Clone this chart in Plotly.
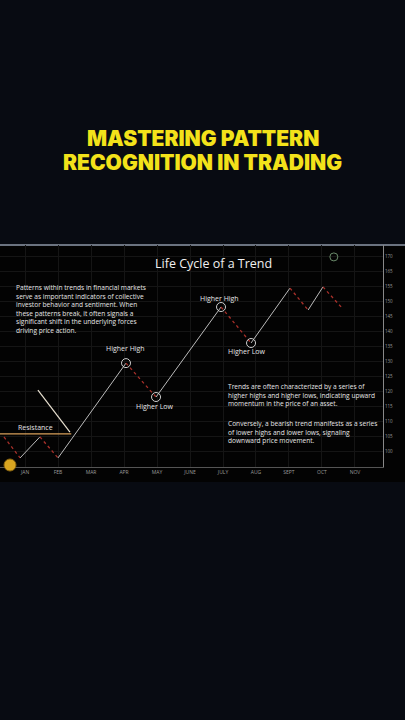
import plotly.graph_objects as go

months = ["JAN","FEB","MAR","APR","MAY","JUNE","JULY","AUG","SEPT","OCT","NOV"]
month_pos = [1,2,3,4,5,6,7,8,9,10,11]
ytick_vals = [100,105,110,115,120,125,130,135,140,145,150,155,160,165]
ytick_text = ["100","105","110","115","120","125","130","135","140","145","150","155","165","170"]
# path points (month, price)
path_x = [0.36,0.85,1.45,2.0,4.06,4.97,6.94,7.85,9.03,9.58,10.03,10.64]
path_y = [104.7,97.7,104.7,97.7,129.3,118,148,136,154.3,147,154.7,147.3]
circle_x = [4.06,4.97,6.94,7.85]
circle_y = [129.3,118,148,136]
res_x = [0.24,2.4]; res_y = [105.7,105.7]
diag_x = [1.39,2.36]; diag_y = [120.3,106.3]

W,H = 405,720
def py(p): return 1-p/H
def px(p): return p/W

fig = go.Figure()
for i in range(len(path_x)-1):
    up = path_y[i+1] > path_y[i]
    fig.add_trace(go.Scatter(x=path_x[i:i+2], y=path_y[i:i+2], mode="lines",
        line=dict(color="#cfcfcf" if up else "#a8302a", width=0.9 if up else 1.3,
                  dash="solid" if up else "dot"), hoverinfo="skip"))
fig.add_trace(go.Scatter(x=res_x, y=res_y, mode="lines", line=dict(color="#d9a05a", width=1.3)))
fig.add_trace(go.Scatter(x=diag_x, y=diag_y, mode="lines", line=dict(color="#e8e0d0", width=1.2)))
fig.add_trace(go.Scatter(x=circle_x, y=circle_y, mode="markers",
    marker=dict(size=9, color="rgba(0,0,0,0)", line=dict(color="#cfcfcf", width=1))))
fig.add_trace(go.Scatter(x=[10.36], y=[164.7], mode="markers",
    marker=dict(size=8, color="rgba(0,0,0,0)", line=dict(color="#6a8a6a", width=1))))

ann = []
def t(x,y,s,size=6.2,color="#e6e6e6",xa="left",ya="top",ref="paper",fam="Open Sans",weight=None,**kw):
    f=dict(size=size,color=color,family=fam)
    if weight: f["weight"]=weight
    ann.append(dict(x=x,y=y,text=s,showarrow=False,xref=ref,yref=ref,xanchor=xa,yanchor=ya,
        align="left",font=f,**kw))
t(0.5,py(138),"MASTERING PATTERN",size=21,color="#f3e21a",xa="center",ya="middle",fam="Inter",weight=900)
t(0.5,py(163),"RECOGNITION IN TRADING",size=21,color="#f3e21a",xa="center",ya="middle",fam="Inter",weight=900)
t(px(213),py(263),"Life Cycle of a Trend",size=12.5,color="#f0f0f0",xa="center",ya="middle")
t(px(14),py(281),"Patterns within trends in financial markets<br>serve as important indicators of collective<br>investor behavior and sentiment. When<br>these patterns break, it often signals a<br>significant shift in the underlying forces<br>driving price action.",size=6.6)
t(px(226),py(380),"Trends are often characterized by a series of<br>higher highs and higher lows, indicating upward<br>momentum in the price of an asset.",size=6.6)
t(px(226),py(417),"Conversely, a bearish trend manifests as a series<br>of lower highs and lower lows, signaling<br>downward price movement.",size=6.6)
for x,y,s in [(125,348,"Higher High"),(154,406,"Higher Low"),(219,298,"Higher High"),(247,351,"Higher Low"),(35,427,"Resistance")]:
    t(px(x),py(y),s,size=7,xa="center",ya="middle")

fig.update_layout(
    width=W,height=H,margin=dict(l=0,r=0,t=0,b=0),
    paper_bgcolor="#080b12",plot_bgcolor="rgba(0,0,0,0)",showlegend=False,
    annotations=ann,
    shapes=[
        dict(type="rect",xref="paper",yref="paper",x0=0,x1=1,y0=py(245),y1=py(482),
             fillcolor="#030303",line=dict(width=0),layer="below"),
        dict(type="rect",xref="paper",yref="paper",x0=0,x1=1,y0=py(244),y1=py(246),
             fillcolor="#6b7380",line=dict(width=0),layer="below"),
        dict(type="circle",xref="paper",yref="paper",x0=px(4),x1=px(16),y0=py(471),y1=py(459),
             fillcolor="#d9a520",line=dict(color="#8a6510",width=1)),
    ],
    xaxis=dict(domain=[0,px(383)],range=[0.24,11.85],tickvals=month_pos,ticktext=months,
               tickfont=dict(size=5,color="#9a9a9a"),showgrid=True,gridcolor="#151515",
               zeroline=False,showline=True,linecolor="#555",ticks=""),
    yaxis=dict(domain=[py(467),py(245)],range=[94.67,168.67],side="right",tickvals=ytick_vals,
               ticktext=ytick_text,tickfont=dict(size=4.5,color="#9a9a9a"),showgrid=True,
               gridcolor="#151515",zeroline=False,showline=True,linecolor="#888",ticks=""),
)
fig.write_html("out.html", config={"displayModeBar": False},
               post_script="document.body.style.margin='0';document.body.style.background='#080b12';")
